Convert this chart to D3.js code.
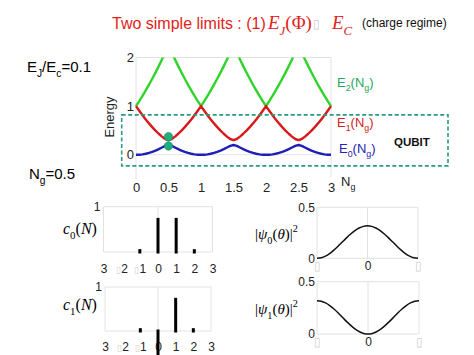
<!DOCTYPE html>
<html><head><meta charset="utf-8">
<script src="https://cdn.jsdelivr.net/npm/d3@7"></script>
<style>body{margin:0;background:#fff}svg{display:block}</style>
</head><body><svg id="c" width="474" height="355"></svg>
<script>
// ---------- data ----------
const ngVals = [0,0.05,0.1,0.15,0.2,0.25,0.3,0.35,0.4,0.45,0.5,0.55,0.6,0.65,0.7,0.75,0.8,0.85,0.9,0.95,
  1,1.05,1.1,1.15,1.2,1.25,1.3,1.35,1.4,1.45,1.5,1.55,1.6,1.65,1.7,1.75,1.8,1.85,1.9,1.95,
  2,2.05,2.1,2.15,2.2,2.25,2.3,2.35,2.4,2.45,2.5,2.55,2.6,2.65,2.7,2.75,2.8,2.85,2.9,2.95,3];
const e0Vals = [0,0,0.007,0.019,0.036,0.058,0.084,0.114,0.148,0.182,0.2,0.182,0.148,0.114,0.084,0.058,0.036,0.019,0.007,0,
  0,0,0.007,0.019,0.036,0.058,0.084,0.114,0.148,0.182,0.2,0.182,0.148,0.114,0.084,0.058,0.036,0.019,0.007,0,
  0,0,0.007,0.019,0.036,0.058,0.084,0.114,0.148,0.182,0.2,0.182,0.148,0.114,0.084,0.058,0.036,0.019,0.007,0,0];
const e1Vals = [1,0.905,0.813,0.726,0.644,0.568,0.496,0.431,0.372,0.323,0.3,0.323,0.372,0.431,0.496,0.568,0.644,0.726,0.813,0.905,
  1,0.905,0.813,0.726,0.644,0.568,0.496,0.431,0.372,0.323,0.3,0.323,0.372,0.431,0.496,0.568,0.644,0.726,0.813,0.905,
  1,0.905,0.813,0.726,0.644,0.568,0.496,0.431,0.372,0.323,0.3,0.323,0.372,0.431,0.496,0.568,0.644,0.726,0.813,0.905,1];
const e2Vals = [1,1.103,1.21,1.323,1.44,1.563,1.69,1.823,1.96,2.103,2.25,2.103,1.96,1.823,1.69,1.563,1.44,1.323,1.21,1.103,
  1,1.103,1.21,1.323,1.44,1.563,1.69,1.823,1.96,2.103,2.25,2.103,1.96,1.823,1.69,1.563,1.44,1.323,1.21,1.103,
  1,1.103,1.21,1.323,1.44,1.563,1.69,1.823,1.96,2.103,2.25,2.103,1.96,1.823,1.69,1.563,1.44,1.323,1.21,1.103,1];
const dotNg = 0.5;
const dotVals = [0.18, 0.37];
const xTicks = [0,0.5,1,1.5,2,2.5,3];
const xTickLabels = ["0","0.5","1","1.5","2","2.5","3"];
const yTicks = [0,1,2];
const yTickLabels = ["0","1","2"];

const cN = [-1,0,1,2];
const c0Vals = [0.03,0.72,0.72,0.03];
const c1Vals = [0.03,-0.72,0.72,0.03];
const nTicks = [-3,-2,-1,0,1,2,3];
const nTickLabels = ["3","\u25AF2","\u25AF1","0","1","2","3"];

const thetaVals = [-180,-165,-150,-135,-120,-105,-90,-75,-60,-45,-30,-15,0,15,30,45,60,75,90,105,120,135,150,165,180];
const psi0Vals = [0,0.0054,0.0213,0.0466,0.0796,0.118,0.1592,0.2003,0.2387,0.2717,0.297,0.3129,0.3183,
  0.3129,0.297,0.2717,0.2387,0.2003,0.1592,0.118,0.0796,0.0466,0.0213,0.0054,0];
const psi1Vals = [0.3183,0.3129,0.297,0.2717,0.2387,0.2003,0.1592,0.118,0.0796,0.0466,0.0213,0.0054,0,
  0.0054,0.0213,0.0466,0.0796,0.118,0.1592,0.2003,0.2387,0.2717,0.297,0.3129,0.3183];
const thTicks = [-180,0,180];
const thTickLabels = ["\u25AF","0","\u25AF"];

// ---------- helpers ----------
const svg = d3.select("#c");
const SANS = "'Liberation Sans', Arial, sans-serif";
const SERIF = "'Liberation Serif', 'Times New Roman', serif";
const GRID = "#e2e2e2";

function rich(x, y, segs, size, opts) {
  opts = opts || {};
  const t = svg.append("text").attr("x", x).attr("y", y)
    .attr("font-family", opts.family || SANS).attr("font-size", size)
    .attr("fill", opts.fill || "#000").attr("text-anchor", opts.anchor || "start");
  if (opts.weight) t.attr("font-weight", opts.weight);
  let cur = 0;
  segs.forEach(s => {
    const off = s.sub ? size * 0.3 : (s.sup ? -size * 0.45 : 0);
    const sp = t.append("tspan").text(s.t).attr("dy", off - cur);
    cur = off;
    if (s.sub || s.sup) sp.attr("font-size", size * 0.68);
    if (s.it) sp.attr("font-style", "italic");
    if (s.fill) sp.attr("fill", s.fill);
    if (s.family) sp.attr("font-family", s.family);
  });
  return t;
}

// ---------- title ----------
rich(112, 29, [{t:"Two simple limits : (1)"}], 16, {fill:"#e2231a"});
rich(268, 29, [{t:"E", it:true},{t:"J", sub:true, it:true},{t:"(\u03A6)"}], 19, {fill:"#e2231a", family:SERIF});
rich(313, 28, [{t:"\u25AF"}], 12, {fill:"#cccccc"});
rich(332, 29, [{t:"E", it:true},{t:"C", sub:true, it:true}], 19, {fill:"#e2231a", family:SERIF});
rich(362, 27, [{t:"(charge regime)"}], 12, {fill:"#111"});

rich(27, 72, [{t:"E"},{t:"J", sub:true},{t:"/E"},{t:"c", sub:true},{t:"=0.1"}], 15);
rich(29, 179, [{t:"N"},{t:"g", sub:true},{t:"=0.5"}], 15);

// ---------- main plot ----------
const x = d3.scaleLinear().domain([0,3]).range([136,331]);
const y = d3.scaleLinear().domain([-0.5,2]).range([179,57.5]);

const frame = svg.append("g").attr("stroke", GRID).attr("stroke-width", 1).attr("fill", "none");
frame.append("line").attr("x1", x(0)).attr("x2", x(3)).attr("y1", y(2)).attr("y2", y(2));
frame.append("line").attr("x1", x(3)).attr("x2", x(3)).attr("y1", y(2)).attr("y2", y(-0.5)-2);
frame.append("line").attr("x1", x(0)).attr("x2", x(3)).attr("y1", y(0)).attr("y2", y(0));
frame.append("line").attr("x1", x(0)).attr("x2", x(0)).attr("y1", y(2)).attr("y2", y(-0.5));

svg.append("defs").append("clipPath").attr("id","clipMain").append("rect")
  .attr("x", x(0)-2).attr("y", y(2)).attr("width", x(3)-x(0)+4).attr("height", y(-0.5)-y(2));

const line = vals => d3.line().x((d,i) => x(ngVals[i])).y(d => y(d))(vals);
const curves = svg.append("g").attr("clip-path","url(#clipMain)").attr("fill","none")
  .attr("stroke-width", 2.4).attr("stroke-linejoin","round");
curves.append("path").attr("d", line(e2Vals)).attr("stroke", "#2ed42a");
curves.append("path").attr("d", line(e1Vals)).attr("stroke", "#d91a1a");
curves.append("path").attr("d", line(e0Vals)).attr("stroke", "#1f1fb8");

const yAx = svg.append("g").attr("transform", `translate(${x(0)},0)`)
  .call(d3.axisLeft(y).tickValues(yTicks).tickSize(0).tickPadding(2).tickFormat((d,i)=>yTickLabels[i]));
yAx.select(".domain").remove();
yAx.selectAll("text").attr("font-family", SANS).attr("font-size", 13).attr("fill","#222");

const xAx = svg.append("g").attr("transform", `translate(0,${y(-0.5)})`)
  .call(d3.axisBottom(x).tickValues(xTicks).tickSize(0).tickPadding(4).tickFormat((d,i)=>xTickLabels[i]));
xAx.select(".domain").remove();
xAx.selectAll("text").attr("font-family", SANS).attr("font-size", 13).attr("fill","#222");

svg.append("text").attr("transform", `translate(114,117) rotate(-90)`).attr("text-anchor","middle")
  .attr("font-family", SANS).attr("font-size", 13).attr("fill","#222").text("Energy");
rich(341, 186, [{t:"N"},{t:"g", sub:true}], 13, {fill:"#222"});

svg.append("g").selectAll("circle").data(dotVals).join("circle")
  .attr("cx", x(dotNg)).attr("cy", d => y(d)).attr("r", 4.2)
  .attr("fill", "#1fae7c").attr("stroke", "#168a60").attr("stroke-width", 0.6);

svg.append("rect").attr("x", x(-0.22)).attr("y", y(0.82))
  .attr("width", x(4.8) - x(-0.22)).attr("height", y(-0.23) - y(0.82))
  .attr("fill","none").attr("stroke","#2a9a80").attr("stroke-width",1.6).attr("stroke-dasharray","4,2.5");

rich(337, 87, [{t:"E"},{t:"2", sub:true},{t:"(N"},{t:"g", sub:true},{t:")"}], 13, {fill:"#22a85e"});
rich(337, 127, [{t:"E"},{t:"1", sub:true},{t:"(N"},{t:"g", sub:true},{t:")"}], 13, {fill:"#cf2222"});
rich(339, 153, [{t:"E"},{t:"0", sub:true},{t:"(N"},{t:"g", sub:true},{t:")"}], 13, {fill:"#2424b0"});
rich(394, 146, [{t:"QUBIT"}], 11.5, {weight:"bold", fill:"#111"});

// ---------- bar plots ----------
function barPlot(vals, xr, yr, labelPad) {
  const bx = d3.scaleLinear().domain([-3,3]).range(xr);
  const by = d3.scaleLinear().domain([0,1]).range(yr);
  const g = svg.append("g");
  const fr = g.append("g").attr("stroke", GRID).attr("fill","none");
  fr.append("line").attr("x1", bx(-3)).attr("x2", bx(3)).attr("y1", by(1)).attr("y2", by(1));
  fr.append("line").attr("x1", bx(-3)).attr("x2", bx(3)).attr("y1", by(0)).attr("y2", by(0));
  fr.append("line").attr("x1", bx(-3)).attr("x2", bx(-3)).attr("y1", by(1)).attr("y2", by(0));
  fr.append("line").attr("x1", bx(3)).attr("x2", bx(3)).attr("y1", by(1)).attr("y2", by(0));
  fr.append("line").attr("x1", bx(0)).attr("x2", bx(0)).attr("y1", by(1)).attr("y2", by(0));
  const ax = g.append("g").attr("transform", `translate(0,${by(0)})`)
    .call(d3.axisBottom(bx).tickValues(nTicks).tickSize(0).tickPadding(labelPad)
      .tickFormat((d,i) => nTickLabels[i]));
  ax.select(".domain").remove();
  ax.selectAll("text").attr("font-family", SANS).attr("font-size", 12).attr("fill","#222")
    .each(function(d,i){
      const s = nTickLabels[i];
      if (s.length > 1) {
        const t = d3.select(this).text(null);
        t.append("tspan").attr("fill","#d0d0d0").attr("font-size",9).text(s[0]);
        t.append("tspan").text(s.slice(1));
      }
    });
  g.append("text").attr("x", bx(-3)-3).attr("y", by(1)).attr("dy","0.35em")
    .attr("text-anchor","end").attr("font-family", SANS).attr("font-size", 12).attr("fill","#222").text("1");
  g.append("g").selectAll("line").data(vals).join("line")
    .attr("x1", (d,i) => bx(cN[i])).attr("x2", (d,i) => bx(cN[i]))
    .attr("y1", by(0)).attr("y2", d => by(d))
    .attr("stroke", "#000").attr("stroke-width", 3).attr("stroke-linecap","square");
}
barPlot(c0Vals, [103.5,212.5], [252,206.7], 12);
barPlot(c1Vals, [105,211], [331,287], 11);

rich(63, 234, [{t:"c", it:true},{t:"0", sub:true},{t:"(", },{t:"N", it:true},{t:")"}], 16, {family:SERIF});
rich(63, 310, [{t:"c", it:true},{t:"1", sub:true},{t:"(", },{t:"N", it:true},{t:")"}], 16, {family:SERIF});

// ---------- wavefunction plots ----------
function wavePlot(vals, xr, yr) {
  const wx = d3.scaleLinear().domain([-180,180]).range(xr);
  const wy = d3.scaleLinear().domain([0,0.5]).range(yr);
  const g = svg.append("g");
  const fr = g.append("g").attr("stroke", GRID).attr("fill","none");
  fr.append("line").attr("x1", wx(-180)).attr("x2", wx(180)).attr("y1", wy(0.5)).attr("y2", wy(0.5));
  fr.append("line").attr("x1", wx(-180)).attr("x2", wx(180)).attr("y1", wy(0)).attr("y2", wy(0));
  fr.append("line").attr("x1", wx(-180)).attr("x2", wx(-180)).attr("y1", wy(0.5)).attr("y2", wy(0));
  fr.append("line").attr("x1", wx(180)).attr("x2", wx(180)).attr("y1", wy(0.5)).attr("y2", wy(0));
  fr.append("line").attr("x1", wx(0)).attr("x2", wx(0)).attr("y1", wy(0.5)).attr("y2", wy(0));
  const ax = g.append("g").attr("transform", `translate(0,${wy(0)})`)
    .call(d3.axisBottom(wx).tickValues(thTicks).tickSize(0).tickPadding(3).tickFormat((d,i)=>thTickLabels[i]));
  ax.select(".domain").remove();
  ax.selectAll("text").attr("font-family", SANS).attr("font-size", 12)
    .attr("fill", (d,i) => thTickLabels[i] === "0" ? "#222" : "#d0d0d0");
  const ay = g.append("g").attr("transform", `translate(${wx(-180)},0)`)
    .call(d3.axisLeft(wy).tickValues([0,0.5]).tickSize(0).tickPadding(2).tickFormat(d3.format("")));
  ay.select(".domain").remove();
  ay.selectAll("text").attr("font-family", SANS).attr("font-size", 12).attr("fill","#222");
  g.append("path").attr("d", d3.line().x((d,i)=>wx(thetaVals[i])).y(d=>wy(d)).curve(d3.curveMonotoneX)(vals))
    .attr("fill","none").attr("stroke","#111").attr("stroke-width",1.5);
}
wavePlot(psi0Vals, [317,418], [258.3,207.3]);
wavePlot(psi1Vals, [317,419], [334,281.7]);

rich(255, 239, [{t:"|"},{t:"\u03C8", it:true},{t:"0", sub:true},{t:"("},{t:"\u03B8", it:true},{t:")|"},{t:"2", sup:true}], 15, {family:SERIF});
rich(255, 314, [{t:"|"},{t:"\u03C8", it:true},{t:"1", sub:true},{t:"("},{t:"\u03B8", it:true},{t:")|"},{t:"2", sup:true}], 15, {family:SERIF});
</script></body></html>
